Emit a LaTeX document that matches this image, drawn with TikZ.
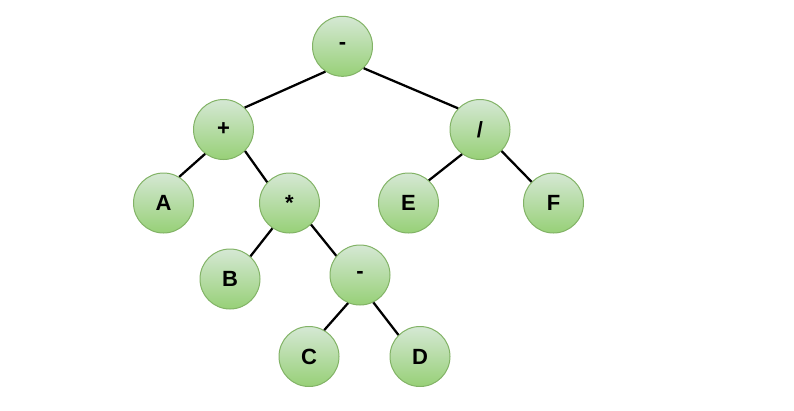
\documentclass[tikz,border=0pt]{standalone}
\usepackage{fontspec}
\setmainfont{Liberation Sans}
\definecolor{gtop}{HTML}{D5E8D4}
\definecolor{gbot}{HTML}{97D077}
\definecolor{gline}{HTML}{82B366}
\begin{document}
\begin{tikzpicture}[x=0.75pt,y=-0.75pt,
  tnode/.style={circle,draw=gline,line width=0.75pt,top color=gtop,bottom color=gbot,
    minimum size=45pt,inner sep=0pt,font=\fontsize{16.5}{18}\selectfont\bfseries},
  edge/.style={line width=1.7pt,black}]
\useasboundingbox (0,0) rectangle (794,411);
\node[tnode] (root) at (342.5,46.3) {-};
\node[tnode] (plus) at (223.5,129.5) {+};
\node[tnode] (slash) at (480,129.5) {/};
\node[tnode] (A) at (163.5,203) {A};
\node[tnode] (star) at (289.5,203) {*};
\node[tnode] (E) at (408.5,203) {E};
\node[tnode] (F) at (553.5,203) {F};
\node[tnode] (B) at (230,279) {B};
\node[tnode] (minus) at (360,275) {-};
\node[tnode] (C) at (309,356.5) {C};
\node[tnode] (D) at (420,356.5) {D};
\draw[edge] (root.236) -- (plus.46);
\draw[edge] (root.314) -- (slash.136);
\draw[edge] (plus.233) -- (A.59);
\draw[edge] (plus.315) -- (star.137);
\draw[edge] (star.236) -- (B.48);
\draw[edge] (star.315) -- (minus.141);
\draw[edge] (minus.247) -- (C.60);
\draw[edge] (minus.296) -- (D.135);
\draw[edge] (slash.234) -- (E.48);
\draw[edge] (slash.315) -- (F.136);
\end{tikzpicture}
\end{document}
